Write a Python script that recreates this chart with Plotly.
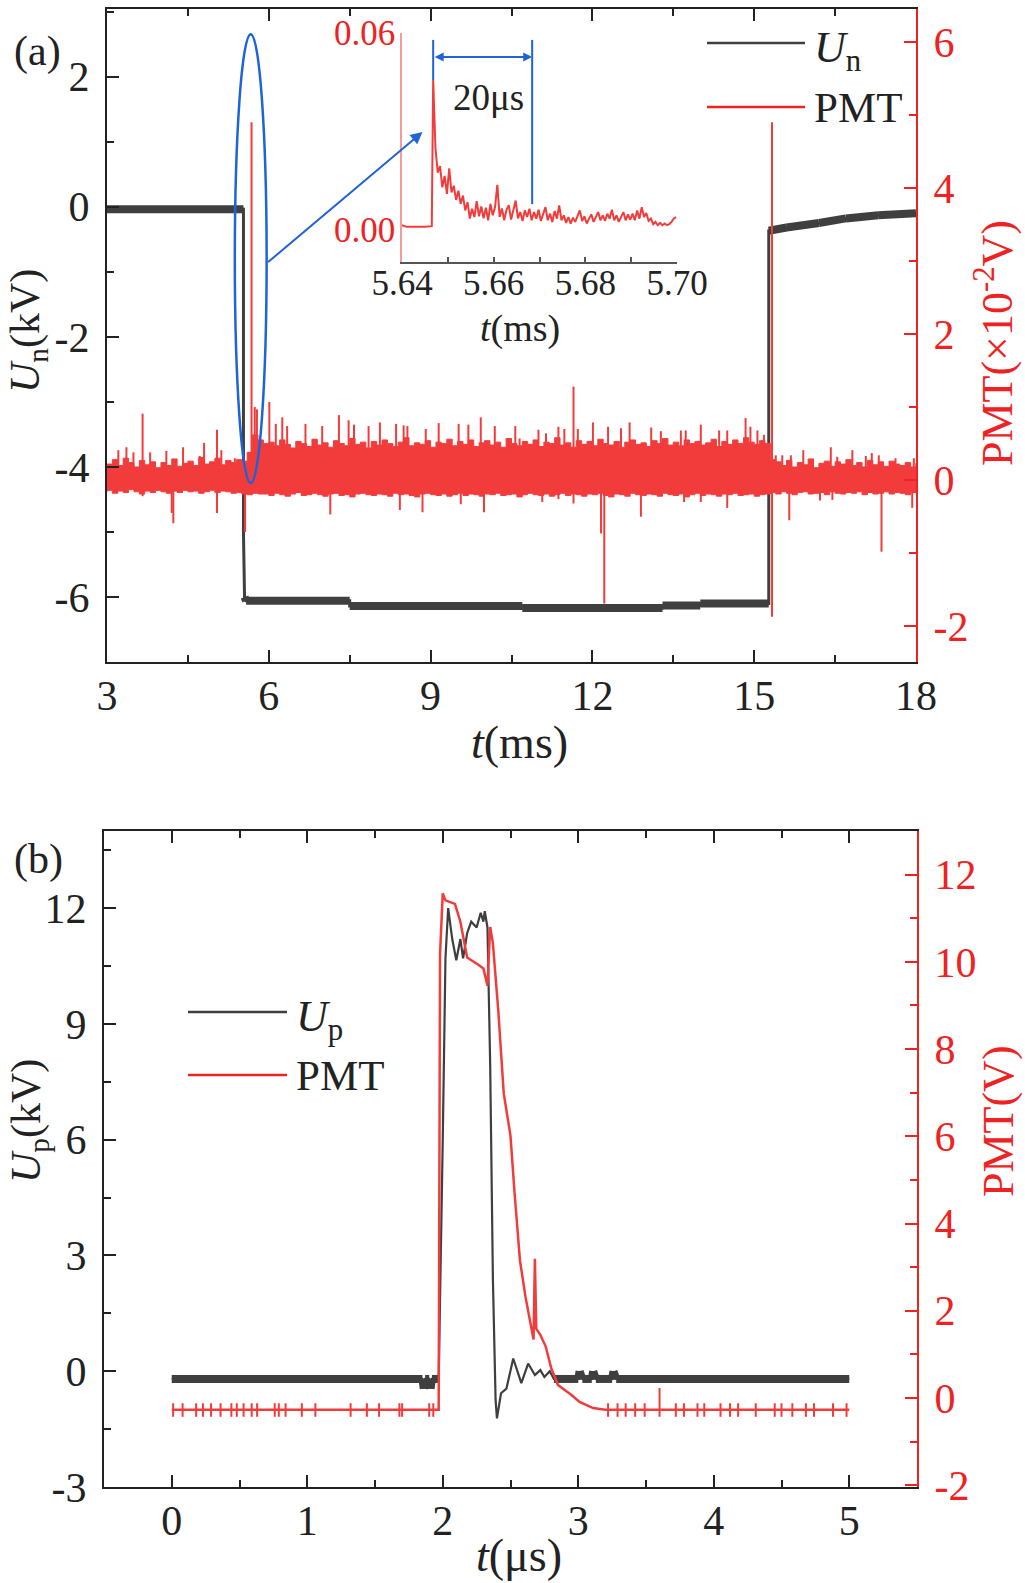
import plotly.graph_objects as go

W, H = 1025, 1583
def px(x): return x / W
def py(y): return 1 - y / H

RED = "#f23c3c"
RED_AX = "#ee2222"
RED_LIGHT = "#f39a9a"
DARK = "#3f3f3f"
AXK = "#222222"
BLUE = "#1f63d8"
FONT = "Liberation Serif"

# ---------------- Panel (a) data ----------------
un_t = [3.0, 5.53, 5.53, 5.55, 5.58, 7.5, 7.5, 10.7, 10.7, 13.3, 13.3, 14.0, 14.0, 15.27, 15.27, 15.6, 16.2, 16.7, 17.3, 18.0]
un_v = [-0.04, -0.04, -5.0, -6.0, -6.06, -6.06, -6.14, -6.14, -6.17, -6.17, -6.13, -6.13, -6.1, -6.1, -0.37, -0.32, -0.25, -0.18, -0.13, -0.1]

pmt_a_grid_t = [round(3.0 + 0.1 * i, 2) for i in range(151)]
pmt_a_hi = [0.22, 0.28, 0.2, 0.3, 0.24, 0.18, 0.27, 0.21, 0.25, 0.17, 0.24, 0.2, 0.29, 0.19, 0.23, 0.26, 0.2, 0.31, 0.22, 0.25, 0.3, 0.21, 0.27, 0.24, 0.28,
            0.26, 0.38, 0.62, 0.55, 0.5,
            0.52, 0.47, 0.55, 0.49, 0.44, 0.53, 0.5, 0.46, 0.56, 0.48,
            0.51, 0.45, 0.54, 0.5, 0.47, 0.57, 0.49, 0.52, 0.44, 0.53,
            0.48, 0.55, 0.5, 0.46, 0.52, 0.58, 0.47, 0.51, 0.49, 0.54,
            0.45, 0.52, 0.5, 0.56, 0.47, 0.53, 0.49, 0.55, 0.46, 0.51,
            0.54, 0.48, 0.52, 0.45, 0.57, 0.5, 0.47, 0.53, 0.49, 0.55,
            0.46, 0.52, 0.5, 0.58, 0.48, 0.51, 0.45, 0.54, 0.49, 0.53,
            0.47, 0.56, 0.5, 0.48, 0.53, 0.45, 0.52, 0.55, 0.49, 0.51,
            0.46, 0.54, 0.5, 0.57, 0.48, 0.52, 0.47, 0.55, 0.5, 0.53,
            0.48, 0.51, 0.56, 0.46, 0.53, 0.49, 0.55, 0.5, 0.58, 0.52,
            0.49, 0.54, 0.5, 0.28,
            0.25, 0.2, 0.27, 0.18, 0.24, 0.21, 0.29, 0.17, 0.23, 0.26, 0.19, 0.25, 0.22, 0.28, 0.2, 0.24, 0.18, 0.27, 0.21, 0.25, 0.19, 0.26, 0.22, 0.2, 0.24, 0.18, 0.23]
pmt_a_lo = [-0.16, -0.14, -0.18, -0.15, -0.17, -0.13, -0.16, -0.19, -0.15, -0.17, -0.14, -0.16, -0.18, -0.15, -0.17, -0.14, -0.16, -0.15, -0.18, -0.16, -0.14, -0.17, -0.15, -0.16, -0.18,
            -0.17, -0.19, -0.2, -0.18, -0.19,
            -0.19, -0.21, -0.18, -0.2, -0.22, -0.19, -0.17, -0.21, -0.2, -0.18,
            -0.2, -0.22, -0.19, -0.18, -0.21, -0.2, -0.23, -0.19, -0.18, -0.2,
            -0.21, -0.19, -0.2, -0.22, -0.18, -0.2, -0.19, -0.21, -0.23, -0.19,
            -0.18, -0.2, -0.21, -0.19, -0.22, -0.2, -0.18, -0.21, -0.19, -0.2,
            -0.22, -0.19, -0.2, -0.18, -0.21, -0.2, -0.19, -0.23, -0.2, -0.18,
            -0.2, -0.21, -0.19, -0.22, -0.2, -0.18, -0.21, -0.19, -0.2, -0.22,
            -0.19, -0.2, -0.18, -0.21, -0.23, -0.19, -0.2, -0.22, -0.18, -0.2,
            -0.21, -0.19, -0.2, -0.22, -0.18, -0.2, -0.21, -0.19, -0.23, -0.2,
            -0.18, -0.21, -0.19, -0.2, -0.22, -0.19, -0.2, -0.18, -0.21, -0.2,
            -0.19, -0.22, -0.2, -0.19,
            -0.17, -0.19, -0.16, -0.18, -0.2, -0.17, -0.16, -0.19, -0.18, -0.17, -0.2, -0.16, -0.18, -0.19, -0.17, -0.18, -0.16, -0.2, -0.17, -0.19, -0.18, -0.16, -0.19, -0.17, -0.18, -0.2, -0.17]

pmt_a_up_t = [3.21, 3.36, 3.49, 3.66, 3.80, 4.10, 4.41, 4.72, 4.80, 5.04, 5.12, 5.37, 5.68, 5.74, 5.78, 6.01, 6.13, 6.25, 6.34,
              6.68, 6.99, 7.30, 7.48, 7.58, 7.85, 8.06, 8.36, 8.50, 8.57, 8.91, 9.15, 9.52, 9.70, 9.93, 10.19, 10.57, 10.65,
              11.0, 11.14, 11.37, 11.48, 11.65, 11.73, 12.01, 12.29, 12.53, 12.69, 13.09, 13.27, 13.64, 13.73, 14.01, 14.35,
              14.50, 14.84, 14.93, 15.06, 15.18, 15.33, 15.40, 15.52, 15.68, 15.91, 16.08, 16.42, 16.54, 16.82, 17.07, 17.18,
              17.31, 17.62, 17.96]
pmt_a_up_v = [0.41, 0.45, 0.38, 0.91, 0.38, 0.40, 0.45, 0.33, 0.51, 0.69, 0.41, 0.30, 4.9, 1.0, 0.97, 1.07, 0.77, 0.86, 0.74,
              0.77, 0.74, 0.89, 0.82, 0.76, 0.74, 0.79, 0.77, 0.75, 0.74, 0.70, 0.78, 0.77, 0.76, 0.86, 0.74, 0.74, 0.57,
              0.69, 0.64, 0.73, 0.70, 1.28, 0.70, 0.79, 0.73, 0.71, 0.79, 0.72, 0.67, 0.68, 0.68, 0.76, 0.68,
              0.68, 0.85, 0.73, 0.68, 0.62, 4.9, 0.34, 0.34, 0.34, 0.41, 0.28, 0.45, 0.32, 0.41, 0.33, 0.37,
              0.34, 0.30, 0.30]
pmt_a_dn_t = [3.66, 4.20, 4.23, 5.04, 5.56, 7.14, 8.43, 8.85, 9.56, 9.99, 11.07, 11.37, 11.65, 12.16, 12.22, 12.90, 13.70,
              14.01, 14.50, 15.33, 15.65, 16.22, 16.45, 17.36, 17.93]
pmt_a_dn_v = [-0.22, -0.45, -0.59, -0.45, -0.71, -0.47, -0.41, -0.44, -0.33, -0.44, -0.30, -0.26, -0.32, -0.73, -1.69, -0.50, -0.30,
              -0.30, -0.38, -1.87, -0.55, -0.28, -0.27, -0.98, -0.38]

# inset (zoom of PMT in panel a)
pmt_in_t = [5.6400, 5.6404, 5.6410, 5.6420, 5.6430, 5.6440, 5.6450, 5.6460, 5.6465] + \
           [round(5.6468 + 0.0005 * k, 4) for k in range(107)]
pmt_in_v = [0.0015, 0.0012, 0.0010, 0.0010, 0.0011, 0.0010, 0.0010, 0.0011, 0.0012,
            0.0457, 0.0250, 0.0175, 0.0195, 0.0130, 0.0165, 0.0110, 0.0188, 0.0115, 0.0135,
            0.0092, 0.0120, 0.0080, 0.0105, 0.0060, 0.0085, 0.0035, 0.0065, 0.0040, 0.0088,
            0.0042, 0.0072, 0.0036, 0.0068, 0.0030, 0.0080, 0.0045, 0.0070, 0.0138, 0.0040,
            0.0066, 0.0030, 0.0062, 0.0076, 0.0032, 0.0058, 0.0090, 0.0036, 0.0055, 0.0028,
            0.0060, 0.0040, 0.0065, 0.0030, 0.0055, 0.0035, 0.0062, 0.0028, 0.0048, 0.0070,
            0.0030, 0.0050, 0.0025, 0.0058, 0.0035, 0.0075, 0.0030, 0.0045, 0.0022, 0.0040,
            0.0020, 0.0038, 0.0025, 0.0045, 0.0060, 0.0028, 0.0042, 0.0020, 0.0035, 0.0048,
            0.0025, 0.0040, 0.0055, 0.0030, 0.0045, 0.0028, 0.0050, 0.0035, 0.0062, 0.0030,
            0.0045, 0.0025, 0.0040, 0.0055, 0.0030, 0.0048, 0.0032, 0.0050, 0.0030, 0.0060,
            0.0035, 0.0070, 0.0040, 0.0052, 0.0028, 0.0035, 0.0018, 0.0025, 0.0015, 0.0022,
            0.0015, 0.0020, 0.0015, 0.0018, 0.0025, 0.0035, 0.0040]
marker_t_start = 5.6468   # decay start (blue marker line)
marker_t_end = 5.6684     # +20 us

# ---------------- Panel (b) data ----------------
up_t = [0.0, 1.85, 1.86, 1.87, 1.90, 1.91, 1.92, 1.97, 2.00, 2.02, 2.04, 2.07, 2.10, 2.13, 2.15, 2.18, 2.21, 2.25,
        2.28, 2.30, 2.31, 2.33, 2.35, 2.37, 2.39, 2.40, 2.43, 2.47, 2.52, 2.55, 2.58, 2.63, 2.68, 2.72, 2.75, 2.79, 2.82,
        3.00, 3.01, 3.03, 3.10, 3.11, 3.13, 3.25, 3.26, 3.28, 5.0]
up_v = [-0.2, -0.2, -0.45, -0.2, -0.2, -0.45, -0.2, -0.2, 6.0, 10.7, 12.0, 11.2, 10.65, 11.2, 10.7, 11.35, 11.65, 11.5,
        11.88, 11.65, 11.92, 11.5, 7.95, 2.4, -0.75, -1.22, -0.57, -0.45, 0.33, 0.0, -0.31, 0.2, -0.1, 0.03, -0.15, 0.0, -0.2,
        -0.2, 0.0, -0.2, -0.2, 0.0, -0.2, -0.2, 0.0, -0.2, -0.2]

pmt_b_t = [0.0, 1.97, 1.98, 2.00, 2.02, 2.09, 2.13, 2.18, 2.26, 2.30, 2.33, 2.35, 2.37, 2.41, 2.45, 2.50, 2.53, 2.57,
           2.61, 2.65, 2.67, 2.68, 2.69, 2.72, 2.76, 2.80, 2.85, 2.88, 2.95, 3.01, 3.11, 3.20, 5.0]
pmt_b_v = [-0.27, -0.27, 10.18, 11.57, 11.41, 11.33, 10.92, 10.10, 9.94, 9.85, 9.45, 10.80, 10.43, 8.87, 6.99, 6.01, 4.70, 3.15,
           2.33, 1.67, 1.34, 3.19, 1.59, 1.45, 1.18, 0.69, 0.30, 0.23, 0.07, -0.09, -0.23, -0.27, -0.27]
pmt_b_tick_t = [0.01, 0.08, 0.18, 0.23, 0.29, 0.36, 0.44, 0.48, 0.53, 0.59, 0.63, 0.76, 0.79, 0.84, 0.96, 1.06, 1.32, 1.44,
                1.53, 1.68, 1.70, 1.90, 1.93, 3.22, 3.29, 3.35, 3.42, 3.49, 3.60, 3.72, 3.78, 3.88, 3.93, 4.05, 4.12, 4.18,
                4.31, 4.45, 4.50, 4.58, 4.68, 4.74, 4.88, 4.98]
pmt_b_tick_hi = [-0.12] * 28 + [0.23] + [-0.12] * 15
pmt_b_tick_lo = [-0.43] * 44

# tick labels
xa_vals = [3, 6, 9, 12, 15, 18]
xa_text = ["3", "6", "9", "12", "15", "18"]
una_vals = [-6, -4, -2, 0, 2]
una_text = ["-6", "-4", "-2", "0", "2"]
pa_vals = [-2, 0, 2, 4, 6]
pa_text = ["-2", "0", "2", "4", "6"]
xin_vals = [5.64, 5.66, 5.68, 5.70]
xin_text = ["5.64", "5.66", "5.68", "5.70"]
yin_vals = [0.0, 0.06]
yin_text = ["0.00", "0.06"]
xb_vals = [0, 1, 2, 3, 4, 5]
xb_text = ["0", "1", "2", "3", "4", "5"]
upb_vals = [-3, 0, 3, 6, 9, 12]
upb_text = ["-3", "0", "3", "6", "9", "12"]
pb_vals = [-2, 0, 2, 4, 6, 8, 10, 12]
pb_text = ["-2", "0", "2", "4", "6", "8", "10", "12"]


def segs(ts, lo, hi):
    xs, ys = [], []
    for t, a, b in zip(ts, lo, hi):
        xs += [t, t, None]
        ys += [a, b, None]
    return xs, ys


def plateau(ts, vs, maxdv):
    xs, ys = [], []
    for i in range(len(ts) - 1):
        if abs(vs[i + 1] - vs[i]) < maxdv and ts[i + 1] > ts[i]:
            xs += [ts[i], ts[i + 1], None]
            ys += [vs[i], vs[i + 1], None]
    return xs, ys


fig = go.Figure()

# ---- panel (a) ----
fig.add_trace(go.Scatter(x=un_t, y=un_v, xaxis="x", yaxis="y", mode="lines",
                         line=dict(color=DARK, width=3), showlegend=False, hoverinfo="skip"))
tx, ty = plateau(un_t, un_v, 0.5)
fig.add_trace(go.Scatter(x=tx, y=ty, xaxis="x", yaxis="y", mode="lines",
                         line=dict(color=DARK, width=8), showlegend=False, hoverinfo="skip"))

band_x = pmt_a_grid_t + pmt_a_grid_t[::-1]
band_y = pmt_a_hi + pmt_a_lo[::-1]
fig.add_trace(go.Scatter(x=band_x, y=band_y, xaxis="x", yaxis="y2", mode="lines",
                         line=dict(color=RED, width=1, shape="hv"), fill="toself", fillcolor=RED,
                         showlegend=False, hoverinfo="skip"))
sx, sy = segs(pmt_a_up_t, [0.1] * len(pmt_a_up_t), pmt_a_up_v)
fig.add_trace(go.Scatter(x=sx, y=sy, xaxis="x", yaxis="y2", mode="lines",
                         line=dict(color=RED, width=2), showlegend=False, hoverinfo="skip"))
sx, sy = segs(pmt_a_dn_t, [0.0] * len(pmt_a_dn_t), pmt_a_dn_v)
fig.add_trace(go.Scatter(x=sx, y=sy, xaxis="x", yaxis="y2", mode="lines",
                         line=dict(color=RED, width=2), showlegend=False, hoverinfo="skip"))

# inset
fig.add_trace(go.Scatter(x=pmt_in_t, y=pmt_in_v, xaxis="x3", yaxis="y5", mode="lines",
                         line=dict(color=RED, width=2), showlegend=False, hoverinfo="skip"))

# ---- panel (b) ----
fig.add_trace(go.Scatter(x=up_t, y=up_v, xaxis="x2", yaxis="y3", mode="lines",
                         line=dict(color=DARK, width=2.2), showlegend=False, hoverinfo="skip"))
bi = [i for i, t in enumerate(up_t) if t <= 1.97 or t >= 2.82]
bx, by = [], []
for k in range(len(bi) - 1):
    i, j = bi[k], bi[k + 1]
    if j == i + 1:
        bx += [up_t[i], up_t[j], None]
        by += [up_v[i], up_v[j], None]
fig.add_trace(go.Scatter(x=bx, y=by, xaxis="x2", yaxis="y3", mode="lines",
                         line=dict(color=DARK, width=8), showlegend=False, hoverinfo="skip"))

fig.add_trace(go.Scatter(x=pmt_b_t, y=pmt_b_v, xaxis="x2", yaxis="y4", mode="lines",
                         line=dict(color=RED, width=2.5), showlegend=False, hoverinfo="skip"))
cx, cy = segs(pmt_b_tick_t, pmt_b_tick_lo, pmt_b_tick_hi)
fig.add_trace(go.Scatter(x=cx, y=cy, xaxis="x2", yaxis="y4", mode="lines",
                         line=dict(color=RED, width=2), showlegend=False, hoverinfo="skip"))


def ax(color, vals, text, mdt, mt0, size=42, standoff=0, ticklen=12, mlen=7, lw=2):
    return dict(showline=True, linewidth=lw, linecolor=color, automargin=False,
                ticks="inside", ticklen=ticklen, tickwidth=2, tickcolor=color,
                tickmode="array", tickvals=vals, ticktext=text,
                tickfont=dict(family=FONT, size=size, color=color),
                ticklabelstandoff=standoff,
                minor=dict(ticks="inside", ticklen=mlen, tickwidth=2, tickcolor=color, dtick=mdt, tick0=mt0),
                showgrid=False, zeroline=False, fixedrange=True)


dom_a_x = [px(107), px(916)]
dom_a_y = [py(662), py(9)]
dom_b_x = [px(104), px(917)]
dom_b_y = [py(1487), py(831)]

layout = dict(
    width=W, height=H, autosize=False,
    margin=dict(l=0, r=0, t=0, b=0, autoexpand=False),
    paper_bgcolor="white", plot_bgcolor="rgba(0,0,0,0)",
    showlegend=False,
    xaxis=dict(ax(AXK, xa_vals, xa_text, 1.5, 3, standoff=-4), domain=dom_a_x, range=[3, 18], anchor="y", mirror="ticks"),
    yaxis=dict(ax(AXK, una_vals, una_text, 1, 1, standoff=7), domain=dom_a_y, range=[-7.0, 3.04], anchor="x", side="left"),
    yaxis2=dict(ax(RED_AX, pa_vals, pa_text, 1, 1, standoff=7), domain=dom_a_y, range=[-2.49, 6.45], anchor="x",
                overlaying="y", side="right"),
    xaxis2=dict(ax(AXK, xb_vals, xb_text, 0.5, 0, standoff=-4), domain=dom_b_x, range=[-0.5, 5.5], anchor="y3", mirror="ticks"),
    yaxis3=dict(ax(AXK, upb_vals, upb_text, 1.5, 0, standoff=7), domain=dom_b_y, range=[-3.0, 14.0], anchor="x2", side="left"),
    yaxis4=dict(ax(RED_AX, pb_vals, pb_text, 1, 1, standoff=7), domain=dom_b_y, range=[-2.04, 13.0], anchor="x2",
                overlaying="y3", side="right"),
    xaxis3=dict(ax("#555555", xin_vals, xin_text, 0.01, 5.64, size=35, standoff=-11, ticklen=5, mlen=5, lw=1.5),
                domain=[px(402), px(677)], range=[5.64, 5.70], anchor="y5"),
    yaxis5=dict(ax(RED_LIGHT, yin_vals, yin_text, 0.01, 0, size=35, standoff=-2, ticklen=0, mlen=0, lw=1.5),
                domain=[py(262), py(33)], range=[-0.0097, 0.06], anchor="x3", side="left"),
)
layout["xaxis3"]["tickfont"]["color"] = AXK
layout["yaxis5"]["tickfont"]["color"] = RED_AX
layout["yaxis5"]["ticks"] = ""
layout["yaxis5"]["minor"]["ticks"] = ""
fig.update_layout(**layout)

ann = []
def txt(x, y, s, size=42, color=AXK, angle=0, xanchor="center", yanchor="middle"):
    ann.append(dict(x=px(x), y=py(y), xref="paper", yref="paper", text=s, showarrow=False,
                    font=dict(family=FONT, size=size, color=color), textangle=angle,
                    xanchor=xanchor, yanchor=yanchor))

txt(37, 52, "(a)", 42)
txt(38, 860, "(b)", 42)
txt(28, 331, "<i>U</i><sub>n</sub>(kV)", 42, angle=-90)
txt(995, 343, "PMT(×10<sup>-2</sup>V)", 44, color=RED_AX, angle=-90)
txt(519, 742, "<i>t</i>(ms)", 46)
txt(520, 328, "<i>t</i>(ms)", 38)
txt(29, 1121, "<i>U</i><sub>p</sub>(kV)", 42, angle=-90)
txt(998, 1121, "PMT(V)", 44, color=RED_AX, angle=-90)
txt(519, 1555, "<i>t</i>(μs)", 46)
# legends
txt(812, 50, "<i>U</i><sub>n</sub>", 44, xanchor="left")
txt(812, 107, "PMT", 43, xanchor="left")
txt(294, 1019, "<i>U</i><sub>p</sub>", 44, xanchor="left")
txt(294, 1075, "PMT", 43, xanchor="left")

# inset annotations
ann.append(dict(x=5.6588, y=0.0405, xref="x3", yref="y5", text="20μs", showarrow=False,
                font=dict(family=FONT, size=37, color=AXK)))
ann.append(dict(x=marker_t_end, y=0.0527, ax=marker_t_start, ay=0.0527, xref="x3", yref="y5",
                axref="x3", ayref="y5", text="", showarrow=True, arrowside="end+start",
                arrowhead=2, startarrowhead=2, arrowsize=0.9, startarrowsize=0.9, arrowwidth=2,
                arrowcolor=BLUE, standoff=0, startstandoff=0))
# arrow from ellipse to inset
ann.append(dict(x=8.85, y=1.15, ax=5.96, ay=-0.87, xref="x", yref="y", axref="x", ayref="y",
                text="", showarrow=True, arrowhead=2, arrowsize=1.2, arrowwidth=2, arrowcolor=BLUE,
                standoff=0, startstandoff=0))
fig.update_layout(annotations=ann)

shapes = [
    dict(type="circle", xref="x", yref="y", x0=5.37, x1=5.96, y0=-4.25, y1=2.65,
         line=dict(color=BLUE, width=2.5)),
    dict(type="line", xref="x3", yref="y5", x0=marker_t_start, x1=marker_t_start, y0=0.0457, y1=0.0579,
         line=dict(color=BLUE, width=2)),
    dict(type="line", xref="x3", yref="y5", x0=marker_t_end, x1=marker_t_end, y0=0.0079, y1=0.0579,
         line=dict(color=BLUE, width=2)),
    # legend lines
    dict(type="line", xref="paper", yref="paper", x0=px(707), x1=px(805), y0=py(43), y1=py(43),
         line=dict(color=DARK, width=2.5)),
    dict(type="line", xref="paper", yref="paper", x0=px(707), x1=px(805), y0=py(107), y1=py(107),
         line=dict(color=RED_AX, width=2.5)),
    dict(type="line", xref="paper", yref="paper", x0=px(188), x1=px(287), y0=py(1012), y1=py(1012),
         line=dict(color=DARK, width=2.5)),
    dict(type="line", xref="paper", yref="paper", x0=px(188), x1=px(287), y0=py(1075), y1=py(1075),
         line=dict(color=RED_AX, width=2.5)),
]
fig.update_layout(shapes=shapes)

fig.write_html("out.html")
